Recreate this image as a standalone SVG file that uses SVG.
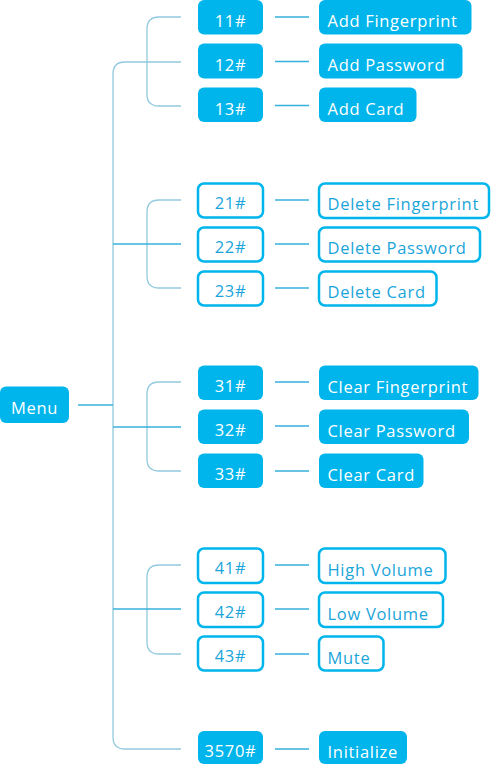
<svg xmlns="http://www.w3.org/2000/svg" width="492" height="767" viewBox="0 0 492 767">
<style>
.f{fill:#00b5ec}
.o{fill:#ffffff;stroke:#00b5ec;stroke-width:2.5}
.tw{font-family:"Open Sans","DejaVu Sans",sans-serif;font-size:16.5px;letter-spacing:0.7px;fill:#ffffff}
.tb{font-family:"Open Sans","DejaVu Sans",sans-serif;font-size:16.5px;letter-spacing:0.7px;fill:#1aa5da}
.c{text-anchor:middle}
.v{fill:none;stroke:#92cadf;stroke-width:1.3}
.h{fill:none;stroke:#38b0dd;stroke-width:1.3}
</style>
<rect width="492" height="767" fill="#ffffff"/>
<g id="connectors">
<path class="v" d="M181,749 H125 Q113,749 113,737 V74 Q113,62 125,62 H181"/>
<path class="h" d="M78,405 H113"/>
<path class="v" d="M181,17 H159 Q147,17 147,29 V94 Q147,106 159,106 H181"/>
<path class="v" d="M181,200 H159 Q147,200 147,212 V276 Q147,288 159,288 H181"/>
<path class="h" d="M113,244 H181"/>
<path class="v" d="M181,382 H159 Q147,382 147,394 V459 Q147,471 159,471 H181"/>
<path class="h" d="M113,427 H181"/>
<path class="v" d="M181,565 H159 Q147,565 147,577 V642 Q147,654 159,654 H181"/>
<path class="h" d="M113,609 H181"/>
<path class="h" d="M275,17 H309 M275,61.5 H309 M275,105.5 H309 M275,200 H309 M275,244 H309 M275,288 H309 M275,382 H309 M275,426 H309 M275,471 H309 M275,565 H309 M275,609 H309 M275,654 H309 M275,749 H309"/>
</g>
<g id="menu"><rect class="f" x="0" y="386.5" width="69" height="36.5" rx="6"/><text class="tw c" x="34.5" y="414">Menu</text></g>
<g id="n11"><rect class="f" x="198" y="0" width="65" height="34.5" rx="6"/><text class="tw c" x="230.5" y="26.5">11#</text></g>
<g id="n12"><rect class="f" x="198" y="43.5" width="65" height="35" rx="6"/><text class="tw c" x="230.5" y="70.5">12#</text></g>
<g id="n13"><rect class="f" x="198" y="87.5" width="65" height="34.5" rx="6"/><text class="tw c" x="230.5" y="114.5">13#</text></g>
<g id="l11"><rect class="f" x="319" y="0" width="152.5" height="34.5" rx="6"/><text class="tw" x="327.5" y="27">Add Fingerprint</text></g>
<g id="l12"><rect class="f" x="319" y="43.5" width="143.5" height="35" rx="6"/><text class="tw" x="327.5" y="71">Add Password</text></g>
<g id="l13"><rect class="f" x="319" y="87.5" width="97.5" height="34.5" rx="6"/><text class="tw" x="327.5" y="115">Add Card</text></g>
<g id="n21"><rect class="o" x="198" y="183.5" width="65" height="34" rx="6"/><text class="tb c" x="230.5" y="208.5">21#</text></g>
<g id="n22"><rect class="o" x="198" y="227.5" width="65" height="34" rx="6"/><text class="tb c" x="230.5" y="252.5">22#</text></g>
<g id="n23"><rect class="o" x="198" y="271.5" width="65" height="34" rx="6"/><text class="tb c" x="230.5" y="296.5">23#</text></g>
<g id="l21"><rect class="o" x="319" y="183.5" width="170" height="34.5" rx="6"/><text class="tb" x="327.5" y="210">Delete Fingerprint</text></g>
<g id="l22"><rect class="o" x="319" y="227.5" width="161" height="34" rx="6"/><text class="tb" x="327.5" y="254">Delete Password</text></g>
<g id="l23"><rect class="o" x="319" y="271.5" width="117.5" height="34" rx="6"/><text class="tb" x="327.5" y="298">Delete Card</text></g>
<g id="n31"><rect class="f" x="198" y="365.5" width="65" height="34.5" rx="6"/><text class="tw c" x="230.5" y="391.5">31#</text></g>
<g id="n32"><rect class="f" x="198" y="409.5" width="65" height="34.5" rx="6"/><text class="tw c" x="230.5" y="435.5">32#</text></g>
<g id="n33"><rect class="f" x="198" y="453.5" width="65" height="34.5" rx="6"/><text class="tw c" x="230.5" y="480">33#</text></g>
<g id="l31"><rect class="f" x="319" y="365.5" width="159.5" height="34.5" rx="6"/><text class="tw" x="327.5" y="393">Clear Fingerprint</text></g>
<g id="l32"><rect class="f" x="319" y="409.5" width="150" height="34.5" rx="6"/><text class="tw" x="327.5" y="437">Clear Password</text></g>
<g id="l33"><rect class="f" x="319" y="453.5" width="104.5" height="34.5" rx="6"/><text class="tw" x="327.5" y="481">Clear Card</text></g>
<g id="n41"><rect class="o" x="198" y="548.5" width="65" height="34.5" rx="6"/><text class="tb c" x="230.5" y="574">41#</text></g>
<g id="n42"><rect class="o" x="198" y="592.5" width="65" height="34.5" rx="6"/><text class="tb c" x="230.5" y="618">42#</text></g>
<g id="n43"><rect class="o" x="198" y="636.5" width="65" height="34" rx="6"/><text class="tb c" x="230.5" y="662">43#</text></g>
<g id="l41"><rect class="o" x="319" y="548.5" width="126.5" height="34.5" rx="6"/><text class="tb" x="327.5" y="575.5">High Volume</text></g>
<g id="l42"><rect class="o" x="319" y="592.5" width="124" height="34.5" rx="6"/><text class="tb" x="327.5" y="619.5">Low Volume</text></g>
<g id="l43"><rect class="o" x="319" y="636.5" width="64.5" height="34" rx="6"/><text class="tb" x="327.5" y="663.5">Mute</text></g>
<g id="n3570"><rect class="f" x="198" y="731" width="65" height="33" rx="6"/><text class="tw c" x="230.5" y="757">3570#</text></g>
<g id="l3570"><rect class="f" x="319" y="731" width="88" height="33" rx="6"/><text class="tw" x="327.5" y="758">Initialize</text></g>
</svg>
